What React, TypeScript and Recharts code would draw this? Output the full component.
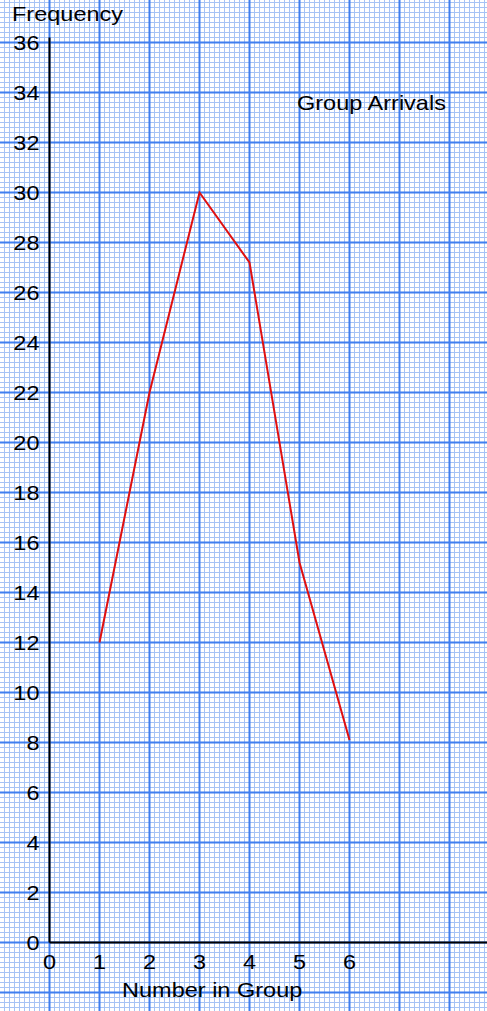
import React from 'react';
import {
  LineChart,
  Line,
  XAxis,
  YAxis,
  CartesianGrid,
  ReferenceLine,
  ReferenceDot,
} from 'recharts';

// ---- data ----
const groupSizes = [1, 2, 3, 4, 5, 6];
const frequencies = [12, 22, 30, 27.2, 15.2, 8.1];
const xTickLabels = [0, 1, 2, 3, 4, 5, 6];
const yTickLabels = [0, 2, 4, 6, 8, 10, 12, 14, 16, 18, 20, 22, 24, 26, 28, 30, 32, 34, 36];
const chartTitle = 'Group Arrivals';
const xAxisTitle = 'Number in Group';
const yAxisTitle = 'Frequency';

const data = groupSizes.map((x, i) => ({ x, y: frequencies[i] }));

// ---- layout ----
const W = 487;
const H = 1011;
const X_DOMAIN: [number, number] = [-0.99, 8.75];
const Y_DOMAIN: [number, number] = [-2.74, 37.7];
const Y_AXIS_TOP = 36.2;

const range = (start: number, end: number, step: number) => {
  const out: number[] = [];
  const n = Math.round((end - start) / step);
  for (let i = 0; i <= n; i++) out.push(+(start + i * step).toFixed(4));
  return out;
};
const minorX = range(-0.9, 8.7, 0.1);
const majorX = range(0, 8, 1);
const minorY = range(-2.6, 37.6, 0.2);
const majorY = range(-2, 36, 2);

const FONT = '"Liberation Sans", Arial, Helvetica, sans-serif';
const SX = 1.12;
const FS = 21;

function StretchText({ x, y, anchor = 'start', children }: any) {
  return (
    <text
      transform={`translate(${x} ${y}) scale(${SX} 1)`}
      x={0}
      y={0}
      textAnchor={anchor}
      fontFamily={FONT}
      fontSize={FS}
      fill="#000"
    >
      {children}
    </text>
  );
}

export default function App() {
  return (
    <div style={{ position: 'absolute', left: 0, top: 0, width: W, height: H, background: '#fff' }}>
      <LineChart width={W} height={H} data={data} margin={{ top: 0, right: 0, bottom: 0, left: 0 }}>
        <XAxis
          dataKey="x"
          type="number"
          domain={X_DOMAIN}
          allowDataOverflow
          hide
          interval={0}
        />
        <YAxis type="number" domain={Y_DOMAIN} allowDataOverflow hide interval={0} />
        <CartesianGrid
          stroke="#a6c3f5"
          strokeWidth={1}
          verticalValues={minorX}
          horizontalValues={minorY}
        />
        <CartesianGrid
          stroke="#3f7ff0"
          strokeWidth={2}
          verticalValues={majorX}
          horizontalValues={majorY}
        />
        <ReferenceLine
          segment={[{ x: 0, y: 0 }, { x: 0, y: Y_AXIS_TOP }]}
          stroke="#000"
          strokeWidth={2}
          ifOverflow="visible"
        />
        <ReferenceLine
          segment={[{ x: 0, y: 0 }, { x: X_DOMAIN[1], y: 0 }]}
          stroke="#000"
          strokeWidth={2}
          ifOverflow="visible"
        />
        {xTickLabels.map((t) => (
          <ReferenceDot
            key={'xt' + t}
            x={t}
            y={0}
            r={1}
            ifOverflow="visible"
            shape={(p: any) => (
              <StretchText x={p.cx} y={p.cy + 26} anchor="middle">
                {String(t)}
              </StretchText>
            )}
          />
        ))}
        {yTickLabels.map((t) => (
          <ReferenceDot
            key={'yt' + t}
            x={0}
            y={t}
            r={1}
            ifOverflow="visible"
            shape={(p: any) => (
              <StretchText x={p.cx - 10} y={p.cy + 7.5} anchor="end">
                {String(t)}
              </StretchText>
            )}
          />
        ))}
        <Line
          type="linear"
          dataKey="y"
          stroke="#e01010"
          strokeWidth={2}
          strokeLinecap="butt"
          dot={false}
          activeDot={false}
          isAnimationActive={false}
        />
      </LineChart>
      <svg
        width={W}
        height={H}
        style={{ position: 'absolute', left: 0, top: 0, pointerEvents: 'none' }}
      >
        <StretchText x={12} y={20.7}>{yAxisTitle}</StretchText>
        <StretchText x={297} y={110.3}>{chartTitle}</StretchText>
        <StretchText x={122} y={997.3}>{xAxisTitle}</StretchText>
      </svg>
    </div>
  );
}
